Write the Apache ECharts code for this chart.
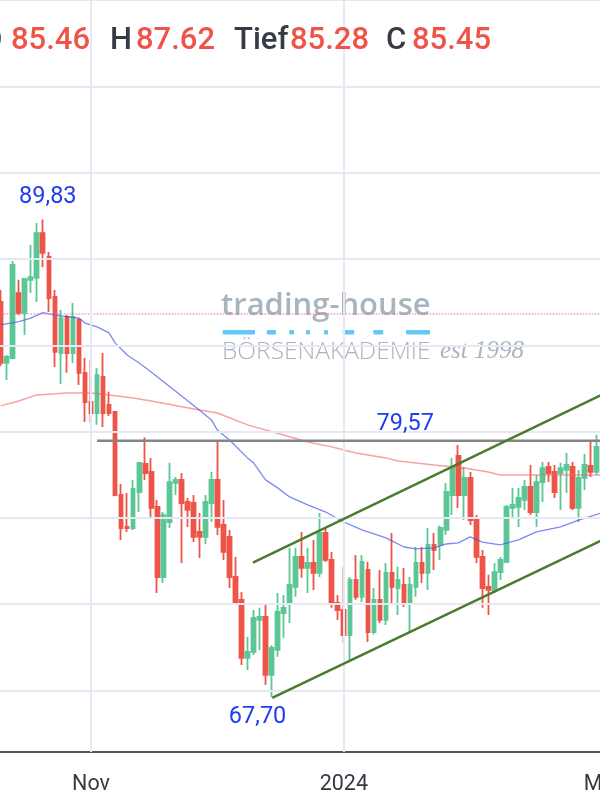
<!DOCTYPE html>
<html>
<head>
<meta charset="utf-8">
<script src="https://cdn.jsdelivr.net/npm/echarts@6/dist/echarts.min.js"></script>
<style>
  html, body { margin: 0; padding: 0; background: #fff; }
  #main { width: 600px; height: 800px; }
</style>
</head>
<body>
<div id="main"></div>
<script>
// daily candles, left to right
const open = [86.01, 83.18, 83.41, 86.42, 85.50, 87.03, 87.12, 89.20, 88.09, 86.24,
  83.64, 85.31, 83.64, 85.17, 82.72, 81.37, 80.86, 82.53, 81.23, 80.91,
  77.06, 75.58, 75.53, 77.20, 78.50, 78.13, 76.51, 73.26, 75.81, 77.62,
  77.76, 76.74, 76.69, 75.35, 75.12, 76.69, 77.76, 75.67, 75.12, 73.26,
  72.20, 69.51, 69.79, 71.27, 71.41, 68.72, 69.88, 71.59, 72.06, 72.80,
  74.19, 73.68, 73.91, 73.45, 75.30, 74.05, 72.06, 71.73, 70.57, 73.12,
  72.34, 73.59, 70.71, 72.20, 71.27, 73.45, 72.75, 72.89, 72.06, 72.80,
  73.91, 73.45, 74.75, 74.75, 75.44, 77.06, 78.87, 77.06, 77.85, 75.95,
  74.19, 72.80, 72.66, 73.49, 73.96, 76.46, 76.51, 76.83, 77.43, 76.27,
  77.66, 78.36, 78.13, 78.08, 78.22, 78.36, 76.46, 77.85, 78.41, 78.13]
const close = [83.18, 83.46, 87.72, 85.50, 87.07, 87.16, 89.20, 88.28, 86.19, 83.69,
  85.26, 83.64, 85.31, 82.72, 81.37, 80.86, 82.62, 80.86, 80.86, 77.06,
  75.53, 75.53, 77.34, 78.55, 78.08, 76.46, 73.26, 76.13, 77.66, 77.76,
  76.69, 76.37, 75.12, 75.12, 76.74, 77.76, 75.58, 74.42, 73.26, 72.10,
  69.51, 69.79, 71.36, 71.41, 68.72, 69.97, 71.64, 71.83, 72.89, 74.19,
  73.68, 73.91, 73.45, 75.30, 74.05, 72.06, 71.73, 70.57, 73.12, 72.34,
  73.96, 70.71, 72.20, 71.27, 73.45, 72.80, 73.12, 72.06, 72.89, 73.91,
  73.45, 74.75, 74.51, 75.53, 77.20, 78.31, 77.06, 77.85, 75.90, 74.19,
  72.75, 72.66, 73.49, 74.05, 76.51, 76.60, 76.92, 77.43, 76.27, 77.66,
  78.31, 78.08, 77.20, 78.31, 78.45, 76.46, 77.85, 78.45, 78.13, 79.29]
const low = [83.04, 82.39, 83.35, 85.40, 84.48, 86.42, 86.01, 87.63, 85.54, 82.99,
  82.21, 82.72, 83.18, 82.16, 80.44, 80.40, 80.31, 80.21, 80.72, 77.00,
  74.98, 75.35, 75.44, 76.27, 77.76, 76.04, 72.52, 72.98, 75.53, 77.06,
  73.91, 75.58, 74.88, 74.14, 74.79, 75.81, 75.21, 74.05, 72.75, 71.97,
  69.18, 68.95, 69.65, 69.88, 68.26, 67.70, 69.56, 70.44, 71.13, 72.34,
  73.22, 72.52, 72.66, 73.26, 73.96, 71.83, 71.27, 70.20, 69.42, 72.20,
  72.10, 70.25, 70.60, 71.13, 71.04, 72.06, 71.50, 71.87, 70.71, 72.34,
  72.98, 72.66, 73.59, 74.05, 75.21, 76.13, 76.46, 75.90, 75.67, 73.91,
  71.83, 71.50, 72.52, 73.12, 73.90, 76.00, 75.58, 76.37, 76.13, 75.58,
  76.74, 77.66, 76.92, 76.37, 77.15, 76.37, 75.81, 77.29, 77.90, 78.00]
const high = [86.56, 83.55, 87.91, 87.03, 87.10, 88.65, 89.67, 89.83, 88.32, 86.56,
  85.63, 85.40, 85.96, 85.26, 83.41, 83.32, 82.95, 83.64, 81.84, 80.95,
  77.57, 77.15, 77.76, 78.59, 79.72, 78.78, 76.83, 76.27, 78.55, 77.90,
  78.08, 76.92, 77.06, 76.23, 77.06, 78.13, 79.57, 76.83, 75.44, 74.19,
  72.57, 70.48, 71.73, 71.83, 72.06, 70.10, 72.52, 72.43, 74.61, 74.61,
  75.35, 74.61, 74.98, 76.23, 75.58, 74.42, 72.43, 73.73, 73.26, 74.28,
  74.28, 73.96, 72.75, 73.59, 73.91, 75.30, 73.73, 73.68, 73.26, 74.65,
  74.65, 75.53, 75.30, 75.65, 77.62, 78.78, 79.38, 78.36, 78.13, 76.13,
  74.51, 73.36, 73.91, 74.19, 76.60, 77.39, 77.39, 77.76, 78.45, 77.99,
  78.59, 78.59, 78.45, 78.55, 79.01, 78.59, 78.22, 78.96, 79.61, 79.84]

// moving averages: [candle index, value]
const maFast = [[0, 84.94], [3, 85.09], [5, 85.26], [7, 85.51], [8, 85.45], [10, 85.36],
  [13, 85.26], [14, 85.03], [16, 84.85], [18, 84.57], [19, 84.11], [21, 83.55],
  [23, 83.18], [25, 82.76], [33, 81.00], [35, 80.54], [36, 80.07], [38, 79.61],
  [41, 78.78], [42, 78.55], [44, 77.76], [46, 77.39], [48, 76.97], [51, 76.60],
  [54, 76.27], [57, 75.81], [60, 75.44], [64, 75.07], [67, 74.65], [69, 74.56],
  [72, 74.61], [74, 74.79], [76, 74.84], [78, 75.12], [80, 74.88], [83, 74.75],
  [86, 74.98], [89, 75.35], [93, 75.58], [96, 75.90], [100, 76.25]]
const maSlow = [[0, 81.19], [3, 81.42], [6, 81.70], [11, 81.79], [15, 81.79], [18, 81.70],
  [22, 81.56], [25, 81.42], [33, 81.00], [36, 80.86], [41, 80.31], [47, 79.84],
  [51, 79.52], [55, 79.29], [59, 79.01], [64, 78.78], [66, 78.64], [72, 78.45],
  [77, 78.31], [81, 78.13], [83, 77.99], [89, 77.99], [100, 77.99]]

// drawn objects
const channelTop = [[41.9, 73.93], [101, 81.86]]
const channelBottom = [[45.1, 67.66], [101, 75.12]]
const resistance = [[16, 79.57], [101, 79.57]]
const lastPrice = 85.45
const gridLevels = [68, 72, 76, 80, 84, 88, 92, 96, 100]

// axis
const tickIndex = [15, 57, 100]
const tickText = ['Nov', '2024', 'Mär']
const categories = []
for (let i = 0; i < 101; i++) categories.push(String(i))

// header
const ohlc = [['O', '85.46'], ['H', '87.62'], ['Tief', '85.28'], ['C', '85.45']]
const ohlcX = [[-19, 11], [110, 136], [234, 290], [386, 412]]

const up = '#5bc795'
const down = '#ee5448'
const dark = '#363a45'

const candles = open.map((o, i) => [o, close[i], low[i], high[i]])

const graphic = []
ohlc.forEach((pair, i) => {
  graphic.push({ type: 'text', x: ohlcX[i][0], y: 41, z: 100,
    style: { text: pair[0], font: '500 31px Roboto', fill: dark, textVerticalAlign: 'middle' } })
  graphic.push({ type: 'text', x: ohlcX[i][1], y: 41, z: 100,
    style: { text: pair[1], font: '500 31px Roboto', fill: down, textVerticalAlign: 'middle' } })
})
// watermark
const wm = '#a8b4be'
graphic.push({ type: 'text', x: 221, y: 306, z: 1, style: { text: 'trading-house', font: '600 31px "Open Sans"', fill: wm, textVerticalAlign: 'middle' } })
const dashes = [[222.7, 255], [266.7, 276], [289.3, 294], [306, 310], [324, 328], [342.7, 354.3], [373.3, 383.3], [406, 430]]
dashes.forEach(d => {
  graphic.push({ type: 'rect', z: 1, shape: { x: d[0], y: 330, width: d[1] - d[0], height: 4.5, r: 1 }, style: { fill: '#62c8f8' } })
})
graphic.push({ type: 'text', x: 222, y: 352, z: 1, style: { text: 'BÖRSENAKADEMIE', font: '300 24.5px "Open Sans"', fill: wm, textVerticalAlign: 'middle' } })
graphic.push({ type: 'text', x: 440, y: 351, z: 1, style: { text: 'est 1998', font: 'italic 25px "Liberation Serif"', fill: wm, textVerticalAlign: 'middle' } })

const blueLabel = { color: '#1f3cf0', fontSize: 23.5, fontFamily: 'Roboto' }

const chart = echarts.init(document.getElementById('main'))
const option = {
  animation: false,
  backgroundColor: '#fff',
  graphic: graphic,
  grid: { left: -2.3, right: -5.7, top: 0, bottom: 48, outerBoundsMode: 'none', containLabel: false },
  xAxis: [
    {
      type: 'category',
      data: categories,
      boundaryGap: true,
      axisLine: { lineStyle: { color: '#50535e', width: 2 } },
      axisTick: {
        alignWithLabel: true,
        length: 8,
        lineStyle: { color: '#50535e', width: 2 },
        interval: (idx) => tickIndex.includes(idx)
      },
      axisLabel: {
        interval: (idx) => tickIndex.includes(idx),
        formatter: (v, idx) => tickText[tickIndex.indexOf(idx)] || '',
        color: dark,
        fontSize: 21.5,
        fontFamily: 'Roboto',
        margin: 22
      },
      splitLine: { show: false }
    },
    { type: 'value', min: -0.5, max: 100.5, show: false }
  ],
  yAxis: { type: 'value', min: 65.15, max: 100, show: false, splitLine: { show: false } },
  series: [
    {
      // grid lines
      type: 'line', xAxisIndex: 1, data: [], z: 0, silent: true,
      markLine: {
        silent: true, symbol: 'none', label: { show: false }, animation: false,
        lineStyle: { color: '#e8e7f4', width: 2, type: 'solid' },
        data: gridLevels.map(v => ({ yAxis: v })).concat(tickIndex.slice(0, 2).map(v => ({ xAxis: v })))
      }
    },
    {
      type: 'candlestick',
      data: candles,
      barWidth: 4.2,
      z: 3,
      itemStyle: { color: up, color0: down, borderColor: up, borderColor0: down, borderWidth: 1.8 }
    },
    {
      type: 'line', xAxisIndex: 1, data: maSlow, symbol: 'none', z: 4,
      lineStyle: { color: 'rgba(240, 100, 100, 0.6)', width: 1.5 }
    },
    {
      type: 'line', xAxisIndex: 1, data: maFast, symbol: 'none', z: 4,
      lineStyle: { color: 'rgba(70, 85, 240, 0.7)', width: 1.3 }
    },
    {
      type: 'line', xAxisIndex: 1, data: [[-1, lastPrice], [101, lastPrice]], symbol: 'none', z: 4,
      lineStyle: { color: '#e36fa0', width: 1, type: [1.5, 1.5] }
    },
    {
      type: 'line', xAxisIndex: 1, data: resistance, symbol: 'none', z: 5,
      lineStyle: { color: '#858585', width: 2.5 },
      markPoint: {
        symbolSize: 0,
        data: [{ coord: [67.2, 79.57], value: '79,57' }],
        label: Object.assign({ show: true, position: 'inside', offset: [0, -17], formatter: '{c}' }, blueLabel)
      }
    },
    {
      type: 'line', xAxisIndex: 1, data: channelTop, symbol: 'none', z: 5,
      lineStyle: { color: '#4b7b2d', width: 2.5 }
    },
    {
      type: 'line', xAxisIndex: 1, data: channelBottom, symbol: 'none', z: 5,
      lineStyle: { color: '#4b7b2d', width: 2.5 }
    },
    {
      type: 'scatter', xAxisIndex: 1, data: [], z: 6,
      markPoint: {
        symbolSize: 0,
        data: [
          { coord: [7, 89.83], value: '89,83', label: { offset: [5, -22] } },
          { coord: [45, 67.70], value: '67,70', label: { offset: [-14, 20] } }
        ],
        label: Object.assign({ show: true, position: 'inside', formatter: '{c}' }, blueLabel)
      }
    }
  ]
}
chart.setOption(option)
</script>
</body>
</html>
